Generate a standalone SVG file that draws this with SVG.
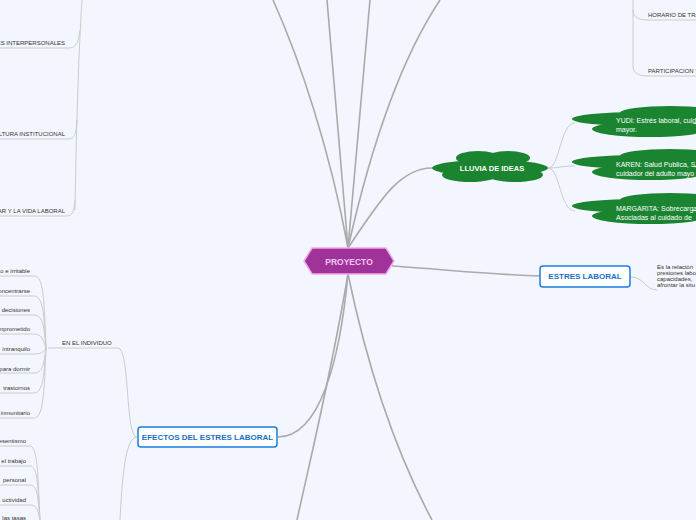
<svg xmlns="http://www.w3.org/2000/svg" width="696" height="520" viewBox="0 0 696 520">
<style>
.c{fill:none;stroke:#aaaaaa;stroke-width:1.6}
.t{fill:none;stroke:#cccccc;stroke-width:1}
.s{font-family:"Liberation Sans",Arial,sans-serif;font-size:6px;fill:#333}
.w{font-family:"Liberation Sans",Arial,sans-serif;font-size:7px;fill:#fff}
.b{font-family:"Liberation Sans",Arial,sans-serif;font-size:8px;font-weight:bold;fill:#1a6fc4}
.cl{fill:#1b8431}
</style>
<rect width="696" height="520" fill="#f3f6fe"/>
<g id="connectors">
<path class="c" d="M348,248 C330,150 300,60 273,0"/>
<path class="c" d="M348,248 C340,150 332,60 327,0"/>
<path class="c" d="M348,248 C356,150 364,60 370,0"/>
<path class="c" d="M348,248 C370,150 400,60 440,0"/>
<path class="c" d="M348,248 C380,200 400,168 432,168"/>
<path class="c" d="M392,266 C450,270 500,275 540,276"/>
<path class="c" d="M348,274 C340,360 320,437 278,437"/>
<path class="c" d="M348,274 C330,380 310,460 297,520"/>
<path class="c" d="M348,274 C370,380 400,460 432,520"/>
<path class="t" d="M548,168 C560,168 560,123 575,123 M548,168 C560,168 560,166 575,166 M548,168 C560,168 560,211 575,211"/>
<path class="t" d="M630,277 C645,277 645,290 657,290"/>
<path class="t" d="M633,0 L633,10 C633,18 640,20 648,20 L696,20 M633,10 L633,66 C633,74 640,76 648,76 L696,76"/>
<path class="t" d="M82,0 C78,60 76,150 75,210 M80,30 C78,45 75,48 68,48 L0,48 M77,120 C76,136 74,139 68,139 L0,139 M75,200 C74,213 72,216 66,216 L0,216"/>
<path class="t" d="M118,348 C130,348 125,437 137,437 M120,520 C122,480 125,437 137,437"/>
<path class="t" d="M48,348 L58,348 L118,348"/>
<path class="t" d="M0,276 L34,276 C44,276 44,300 46,348 M0,296 L34,296 C44,296 44,320 46,348 M0,315 L34,315 C44,315 44,330 46,348 M0,334 L34,334 C44,334 44,345 46,348 M0,354 L34,354 C44,354 44,350 46,348 M0,373 L34,373 C44,373 44,360 46,348 M0,393 L34,393 C44,393 44,370 46,348 M0,418 L34,418 C44,418 44,390 46,348"/>
<path class="t" d="M0,446 L30,446 C38,446 38,480 40,520 M0,466 L30,466 C38,466 38,490 40,520 M0,485 L30,485 C38,485 38,500 40,520 M0,505 L30,505 C38,505 38,512 40,520"/>
</g>
<g id="proyecto">
<polygon points="312,248 386,248 394,261 386,274 312,274 304,261" fill="#a0339a" stroke="#f4a8ee" stroke-width="1.5"/>
<text x="349" y="264.5" text-anchor="middle" font-family="Liberation Sans,Arial,sans-serif" font-size="8.5" font-weight="bold" fill="#f6c8f2">PROYECTO</text>
</g>
<g id="lluvia">
<ellipse class="cl" cx="490" cy="168" rx="58" ry="8"/>
<ellipse class="cl" cx="478" cy="158" rx="22" ry="7"/>
<ellipse class="cl" cx="508" cy="158" rx="22" ry="7"/>
<ellipse class="cl" cx="470" cy="175" rx="28" ry="7"/>
<ellipse class="cl" cx="515" cy="175" rx="28" ry="7"/>
<text x="492" y="171" text-anchor="middle" font-family="Liberation Sans,Arial,sans-serif" font-size="7.5" font-weight="bold" fill="#fff">LLUVIA DE IDEAS</text>
</g>
<g id="yudi">
<ellipse class="cl" cx="640" cy="119" rx="68" ry="7"/><ellipse class="cl" cx="670" cy="113" rx="50" ry="7"/>
<ellipse class="cl" cx="650" cy="129" rx="58" ry="8"/>
<text class="w" x="616" y="123">YUDI: Estrés laboral, cuidac</text><text class="w" x="616" y="132">mayor.</text>
</g>
<g id="karen">
<ellipse class="cl" cx="640" cy="162" rx="68" ry="7"/><ellipse class="cl" cx="670" cy="156" rx="50" ry="7"/>
<ellipse class="cl" cx="650" cy="172" rx="58" ry="8"/>
<text class="w" x="616" y="167">KAREN: Salud Publica, S</text><text class="w" x="616" y="176">cuidador del adulto mayo</text>
</g>
<g id="margarita">
<ellipse class="cl" cx="640" cy="206" rx="68" ry="7"/><ellipse class="cl" cx="670" cy="200" rx="50" ry="7"/>
<ellipse class="cl" cx="650" cy="216" rx="58" ry="8"/>
<text class="w" x="616" y="211">MARGARITA: Sobrecarga</text><text class="w" x="616" y="220">Asociadas al cuidado de</text>
</g>
<g id="estres">
<rect x="540" y="266" width="90" height="21" rx="3" fill="#fff" stroke="#1a7de0" stroke-width="1.5"/>
<text class="b" x="585" y="279" text-anchor="middle">ESTRES LABORAL</text>
<text class="s" font-size="5.5" x="657" y="269">Es la relación</text>
<text class="s" font-size="5.5" x="657" y="275">presiones labo</text>
<text class="s" font-size="5.5" x="657" y="281">capacidades, </text>
<text class="s" font-size="5.5" x="657" y="287">afrontar la situ</text>
</g>
<g id="efectos">
<rect x="138" y="427" width="139" height="20" rx="3" fill="#fff" stroke="#1a7de0" stroke-width="1.5"/>
<text class="b" x="207.5" y="440" text-anchor="middle">EFECTOS DEL ESTRES LABORAL</text>
</g>
<g id="individuo"><text class="s" x="62" y="345">EN EL INDIVIDUO</text></g>
<g id="leftitems">
<text class="s" x="30" y="273" text-anchor="end">o e irritable</text>
<text class="s" x="30" y="293" text-anchor="end">oncentrarse</text>
<text class="s" x="30" y="312" text-anchor="end">decisiones</text>
<text class="s" x="30" y="331" text-anchor="end">mprometido</text>
<text class="s" x="30" y="351" text-anchor="end">intranquilo</text>
<text class="s" x="30" y="371" text-anchor="end">para dormir</text>
<text class="s" x="30" y="390" text-anchor="end">trastornos</text>
<text class="s" x="30" y="415" text-anchor="end">inmunitario</text>
<text class="s" x="26" y="443" text-anchor="end">esentismo</text>
<text class="s" x="26" y="463" text-anchor="end">el trabajo</text>
<text class="s" x="26" y="482" text-anchor="end">personal</text>
<text class="s" x="26" y="502" text-anchor="end">uctividad</text>
<text class="s" x="26" y="520" text-anchor="end">las tasas</text>
</g>
<g id="topleft">
<text class="s" x="65" y="45" text-anchor="end">NES INTERPERSONALES</text>
<text class="s" x="65" y="136" text-anchor="end">LTURA INSTITUCIONAL</text>
<text class="s" x="65" y="213" text-anchor="end">AR Y LA VIDA LABORAL</text>
</g>
<g id="topright">
<text class="s" x="648" y="17">HORARIO DE TRA</text>
<text class="s" x="648" y="73">PARTICIPACION Y</text>
</g>
</svg>
